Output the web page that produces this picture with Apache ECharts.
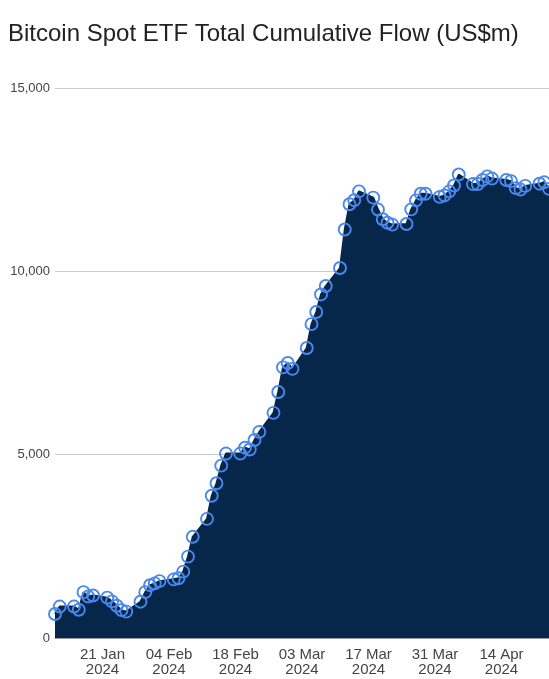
<!DOCTYPE html>
<html>
<head>
<meta charset="utf-8">
<script src="https://cdn.jsdelivr.net/npm/echarts@6/dist/echarts.min.js"></script>
<style>
html,body{margin:0;padding:0;background:#fff;}
#chart{width:549px;height:679px;}
</style>
</head>
<body>
<div id="chart"></div>
<script>
// Dates (weekdays) and cumulative flow values (US$m)
const dates = [
 '2024-01-11','2024-01-12','2024-01-15','2024-01-16','2024-01-17','2024-01-18','2024-01-19',
 '2024-01-22','2024-01-23','2024-01-24','2024-01-25','2024-01-26','2024-01-29','2024-01-30','2024-01-31',
 '2024-02-01','2024-02-02','2024-02-05','2024-02-06','2024-02-07','2024-02-08','2024-02-09',
 '2024-02-12','2024-02-13','2024-02-14','2024-02-15','2024-02-16','2024-02-19','2024-02-20',
 '2024-02-21','2024-02-22','2024-02-23','2024-02-26','2024-02-27','2024-02-28','2024-02-29',
 '2024-03-01','2024-03-04','2024-03-05','2024-03-06','2024-03-07','2024-03-08','2024-03-11',
 '2024-03-12','2024-03-13','2024-03-14','2024-03-15','2024-03-18','2024-03-19','2024-03-20',
 '2024-03-21','2024-03-22','2024-03-25','2024-03-26','2024-03-27','2024-03-28','2024-03-29',
 '2024-04-01','2024-04-02','2024-04-03','2024-04-04','2024-04-05','2024-04-08','2024-04-09',
 '2024-04-10','2024-04-11','2024-04-12','2024-04-15','2024-04-16','2024-04-17','2024-04-18',
 '2024-04-19','2024-04-22','2024-04-23','2024-04-24'
];
const cumulativeFlow = [
 655, 858, 858, 770, 1250, 1130, 1160,
 1100, 1000, 880, 760, 720, 990, 1250, 1440,
 1490, 1550, 1600, 1630, 1810, 2220, 2760,
 3250, 3880, 4220, 4700, 5030, 5030, 5190,
 5140, 5400, 5620, 6140, 6710, 7380, 7500,
 7340, 7910, 8560, 8890, 9370, 9600, 10090,
 11140, 11830, 11940, 12180, 12010, 11685, 11420,
 11325, 11275, 11290, 11690, 11935, 12115, 12115,
 12030, 12070, 12180, 12340, 12640, 12380, 12380,
 12490, 12590, 12530, 12490, 12460, 12270, 12230,
 12330, 12390, 12430, 12250
];
const xTickDates = ['2024-01-21','2024-02-04','2024-02-18','2024-03-03','2024-03-17','2024-03-31','2024-04-14'];
const yTicks = [0, 5000, 10000, 15000];
const xRange = ['2024-01-11', '2024-04-24'];

const ts = s => { const p = s.split('-').map(Number); return Date.UTC(p[0], p[1]-1, p[2]); };
const months = ['Jan','Feb','Mar','Apr','May','Jun','Jul','Aug','Sep','Oct','Nov','Dec'];
const seriesData = dates.map((d, i) => [ts(d), cumulativeFlow[i]]);

const chart = echarts.init(document.getElementById('chart'), null, {renderer: 'canvas'});
const font = "Arial, 'Liberation Sans', sans-serif";
chart.setOption({
  animation: false,
  backgroundColor: '#ffffff',
  title: {
    text: 'Bitcoin Spot ETF Total Cumulative Flow (US$m)',
    left: 3, top: 17,
    textStyle: {fontFamily: font, fontSize: 24, fontWeight: 'normal', color: '#222'}
  },
  grid: {left: 55, right: 0, top: 88, bottom: 41, containLabel: false},
  xAxis: {
    type: 'value',
    min: ts(xRange[0]), max: ts(xRange[1]),
    splitLine: {show: false},
    axisTick: {show: false},
    axisLine: {show: true, lineStyle: {color: '#9a9a9a', width: 1}},
    axisLabel: {
      customValues: xTickDates.map(ts),
      showMinLabel: true, showMaxLabel: true,
      margin: 9,
      fontFamily: font, fontSize: 15, color: '#444', lineHeight: 15,
      formatter: v => {
        const d = new Date(v);
        const dd = String(d.getUTCDate()).padStart(2, '0');
        return dd + ' ' + months[d.getUTCMonth()] + '\n' + d.getUTCFullYear();
      }
    }
  },
  yAxis: {
    type: 'value',
    min: yTicks[0], max: yTicks[yTicks.length-1], interval: yTicks[1]-yTicks[0],
    axisLine: {show: false},
    axisTick: {show: false},
    splitLine: {lineStyle: {color: '#cccccc', width: 1}},
    axisLabel: {
      margin: 5, fontFamily: font, fontSize: 13, color: '#444',
      formatter: v => v.toLocaleString('en-US')
    }
  },
  series: [{
    type: 'line',
    data: seriesData,
    symbol: 'circle',
    symbolSize: 12,
    showAllSymbol: true,
    itemStyle: {color: 'rgba(0,0,0,0)', borderColor: '#4a88ec', borderWidth: 1.9},
    lineStyle: {color: '#06264a', width: 2},
    areaStyle: {color: '#06264a', opacity: 1},
    emphasis: {disabled: true}
  }]
});
</script>
</body>
</html>
